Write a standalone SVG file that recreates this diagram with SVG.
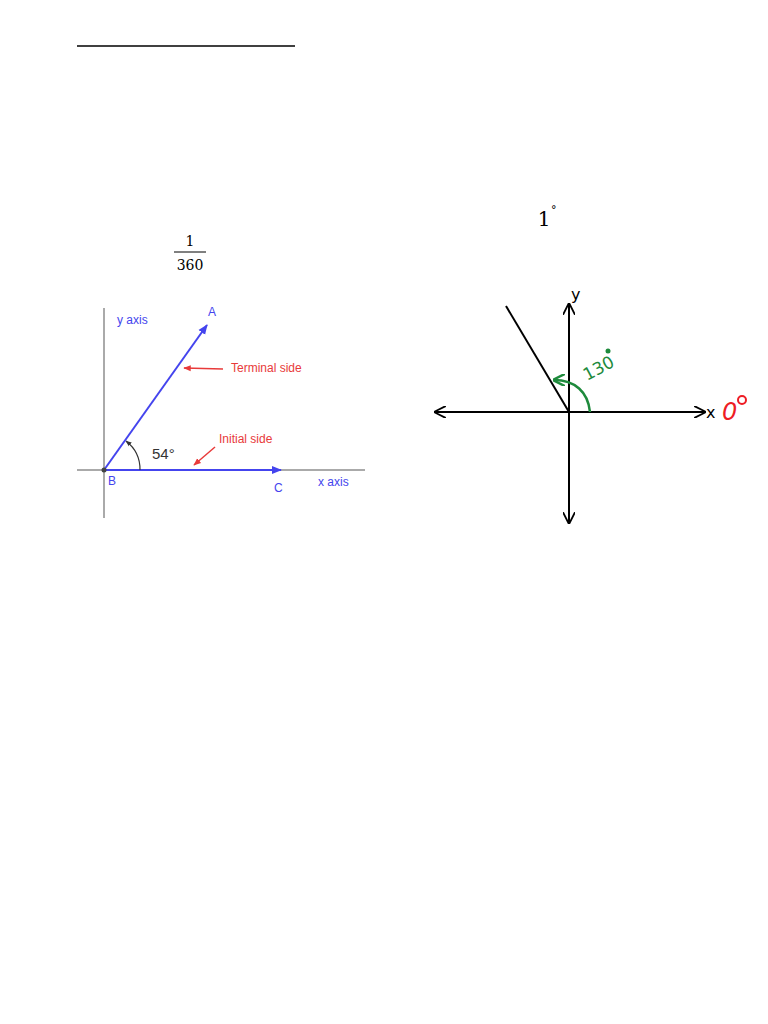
<svg xmlns="http://www.w3.org/2000/svg" width="768" height="1024" viewBox="0 0 768 1024">
<style>
.ax{stroke:#aaa;stroke-width:2;fill:none}
.bl{stroke:#4444ee;stroke-width:2;fill:none}
.rd{stroke:#e83a3a;stroke-width:1.5;fill:none}
.k{stroke:#000;stroke-width:2;fill:none}
.lb{font-family:"Liberation Sans",Arial,sans-serif;font-size:12px}
.m{font-family:"DejaVu Serif","Liberation Serif",serif;font-size:14px}
</style>
<defs>
<marker id="ab" viewBox="0 0 10 10" refX="9" refY="5" markerWidth="5" markerHeight="5" orient="auto"><path d="M0,1 L10,5 L0,9 Z" fill="#4444ee"/></marker>
<marker id="ar" viewBox="0 0 10 10" refX="9" refY="5" markerWidth="5" markerHeight="5" orient="auto"><path d="M0,1 L10,5 L0,9 Z" fill="#e83a3a"/></marker>
<marker id="ak" viewBox="0 0 10 10" refX="9" refY="5" markerWidth="6" markerHeight="6" orient="auto"><path d="M0,0 L10,5 L0,10" fill="none" stroke="#000" stroke-width="1.5"/></marker>
<marker id="ag" viewBox="0 0 10 10" refX="9" refY="5" markerWidth="5" markerHeight="5" orient="auto"><path d="M0,0 L10,5 L0,10" fill="none" stroke="#1e8a3c" stroke-width="2"/></marker>
<marker id="akk" viewBox="0 0 10 10" refX="9" refY="5" markerWidth="5" markerHeight="5" orient="auto"><path d="M0,1 L10,5 L0,9 Z" fill="#333"/></marker>
</defs>
<line x1="77" y1="46" x2="295" y2="46" stroke="#000" stroke-width="1.5"/>
<text x="544" y="226" class="m" style="font-size:20px" text-anchor="middle">1</text>
<text x="551" y="214" class="m" style="font-size:11px">°</text>
<text x="190" y="246" class="m" text-anchor="middle">1</text>
<line x1="174" y1="252" x2="206" y2="252" stroke="#000" stroke-width="1"/>
<text x="190" y="270" class="m" text-anchor="middle">360</text>
<g id="left">
<line class="ax" x1="104" y1="308" x2="104" y2="518"/>
<line class="ax" x1="77" y1="470" x2="365" y2="470"/>
<line class="bl" x1="104" y1="470" x2="207" y2="325" marker-end="url(#ab)"/>
<line class="bl" x1="104" y1="470" x2="281" y2="470" marker-end="url(#ab)"/>
<circle cx="104" cy="470" r="2.5" fill="#444"/>
<path d="M140,470 A36,36 0 0 0 126,441" stroke="#333" stroke-width="1.2" fill="none" marker-end="url(#akk)"/>
<text x="117" y="324" class="lb" fill="#4444ee">y axis</text>
<text x="208" y="316" class="lb" fill="#4444ee">A</text>
<text x="108" y="485" class="lb" fill="#4444ee">B</text>
<text x="274" y="492" class="lb" fill="#4444ee">C</text>
<text x="318" y="486" class="lb" fill="#4444ee">x axis</text>
<text x="152" y="459" class="lb" style="font-size:15px" fill="#333">54°</text>
<line class="rd" x1="223" y1="369" x2="184" y2="368" marker-end="url(#ar)"/>
<text x="231" y="372" class="lb" fill="#e83a3a">Terminal side</text>
<line class="rd" x1="215" y1="447" x2="194" y2="465" marker-end="url(#ar)"/>
<text x="219" y="443" class="lb" fill="#e83a3a">Initial side</text>
</g>
<g id="right">
<line class="k" x1="569" y1="412" x2="705" y2="412" marker-end="url(#ak)"/>
<line class="k" x1="569" y1="412" x2="435" y2="412" marker-end="url(#ak)"/>
<line class="k" x1="569" y1="412" x2="569" y2="304" marker-end="url(#ak)"/>
<line class="k" x1="569" y1="412" x2="569" y2="523" marker-end="url(#ak)"/>
<line class="k" x1="569" y1="412" x2="506" y2="306"/>
<path d="M590,412 C588,392 575,380 554,380" stroke="#1e8a3c" stroke-width="2.5" fill="none" marker-end="url(#ag)"/>
<text x="0" y="0" transform="translate(587,381) rotate(-28)" font-family="'Comic Sans MS','DejaVu Sans',sans-serif" font-size="17" fill="#1e8a3c">130</text>
<circle cx="608" cy="351" r="2.5" fill="#1e8a3c"/>
<text x="571" y="300" font-family="'DejaVu Sans',sans-serif" font-size="16">y</text>
<text x="706" y="418" font-family="'DejaVu Sans',sans-serif" font-size="16">x</text>
<text x="722" y="420" font-family="'DejaVu Sans',sans-serif" font-size="24" font-style="italic" fill="#ee1c24">0</text>
<circle cx="742" cy="400" r="4" fill="none" stroke="#ee1c24" stroke-width="2"/>
</g>
</svg>
